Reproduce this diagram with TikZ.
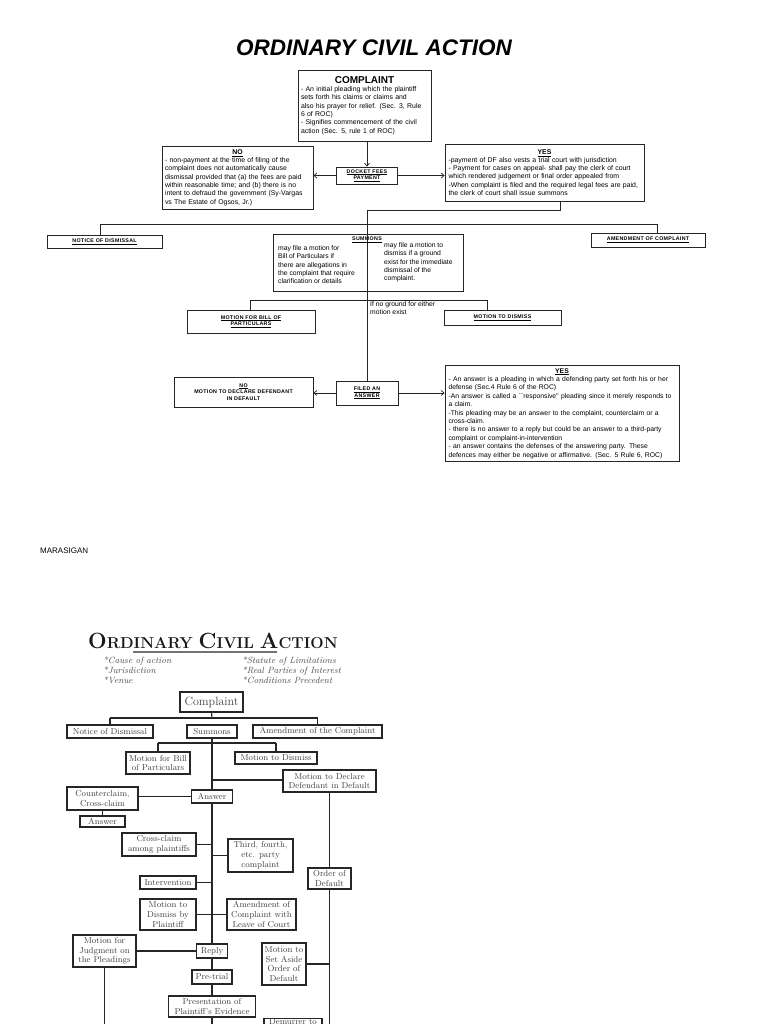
\documentclass[tikz,border=0pt]{standalone}
\usepackage{fontspec}
\newfontfamily\usf{Liberation Sans}
\newfontfamily\usfw[LetterSpace=6]{Liberation Sans}
\usetikzlibrary{arrows.meta}
\begin{document}
\begin{tikzpicture}[x=1pt,y=-1pt,
  ubox/.style={draw=black!85, line width=0.7pt, fill=white, inner sep=3pt},
  utxt/.style={font=\usf\fontsize{6.8}{8.2}\selectfont, text=black},
  utxtl/.style={font=\usf\fontsize{6.9}{8.3}\selectfont, text=black},
  uhead/.style={font=\usfw\bfseries\fontsize{5.3}{6.6}\selectfont, align=center, inner sep=1pt},
  uline/.style={draw=black!85, line width=0.7pt},
  uarr/.style={uline, -{Straight Barb[length=3pt,width=5pt]}},
  lbox/.style={draw=black!85, line width=1.2pt, fill=white, text=black!75, font=\fontsize{8.6}{9.8}\selectfont, align=center, inner sep=1pt},
  lline/.style={draw=black!85, line width=1.1pt},
]
\useasboundingbox (0,0) rectangle (768,1024);
\fill[white] (0,0) rectangle (768,1024);

% ---------------- upper diagram ----------------
\node[font=\usf\bfseries\itshape\fontsize{22.5}{26}\selectfont] (title) at (374,48) {ORDINARY CIVIL ACTION};

\node[ubox, minimum width=133pt, minimum height=71pt, text width=127pt, align=left, utxtl] (cmp) at (364.5,105.5)
 {{\centering\fontsize{10}{12}\selectfont\bfseries COMPLAINT\par}- An initial pleading which the plaintiff\\ sets forth his claims or claims and\\ also his prayer for relief. (Sec. 3, Rule\\ 6 of ROC)\\ - Signifies commencement of the civil\\ action (Sec. 5, rule 1 of ROC)};

\node[ubox, minimum width=61pt, minimum height=17pt, uhead] (dock) at (367,175.5) {\underline{DOCKET FEES}\\\underline{PAYMENT}};

\node[ubox, minimum width=151pt, minimum height=63pt, text width=145pt, align=left, utxtl] (no1) at (237.5,177.5)
 {{\centering\bfseries\underline{NO}\par}- non-payment at the time of filing of the\\ complaint does not automatically cause\\ dismissal provided that (a) the fees are paid\\ within reasonable time; and (b) there is no\\ intent to defraud the government \mbox{(Sy-Vargas}\\ vs The Estate of Ogsos, Jr.)};

\node[ubox, minimum width=199pt, minimum height=57pt, text width=192pt, align=left, font=\usf\fontsize{6.9}{8.2}\selectfont] (yes1) at (544.5,172.5)
 {{\centering\bfseries\underline{YES}\par}-payment of DF also vests a trial court with jurisdiction\\ - Payment for cases on appeal- shall pay the clerk of court\\ which rendered judgement or final order appealed from\\ -When complaint is filed and the required legal fees are paid,\\ the clerk of court shall issue summons};

\draw[uarr] (cmp.south -| dock.north) -- (dock.north);
\draw[uarr] (dock.west) -- (dock.west -| no1.east);
\draw[uarr] (dock.east) -- (dock.east -| yes1.west);

\node[ubox, minimum width=115pt, minimum height=13pt, uhead] (not) at (104.5,241.5) {\underline{NOTICE OF DISMISSAL}};
\node[ubox, minimum width=114pt, minimum height=14pt, uhead] (amd) at (648,240) {\underline{AMENDMENT OF COMPLAINT}};
\node[ubox, minimum width=190pt, minimum height=57pt] (sum) at (368,262.5) {};

\node[ubox, minimum width=128pt, minimum height=23pt, uhead] (bill) at (251,321.5) {\underline{MOTION FOR BILL OF}\\\underline{PARTICULARS}};
\node[ubox, minimum width=117pt, minimum height=15pt, uhead] (dis) at (502.5,317.5) {\underline{MOTION TO DISMISS}};

\node[ubox, minimum width=62pt, minimum height=24pt, uhead] (filed) at (367,393) {\underline{FILED AN}\\\underline{ANSWER}};
\node[ubox, minimum width=139pt, minimum height=30pt, uhead] (no2) at (243.5,392) {\underline{NO}\\MOTION TO DECLARE DEFENDANT\\IN DEFAULT};

\node[ubox, minimum width=234pt, minimum height=95pt, text width=227pt, align=left, font=\usf\fontsize{6.8}{8.4}\selectfont] (yes2) at (562,413.5)
 {{\centering\bfseries\underline{YES}\par}- An answer is a pleading in which a defending party set forth his or her\\ defense (Sec.4 Rule 6 of the ROC)\\ -An answer is called a ``responsive'' pleading since it merely responds to\\ a claim.\\ -This pleading may be an answer to the complaint, counterclaim or a\\ cross-claim.\\ - there is no answer to a reply but could be an answer to a third-party\\ complaint or complaint-in-intervention\\ - an answer contains the defenses of the answering party. These\\ defences may either be negative or affirmative. (Sec. 5 Rule 6, ROC)};

\coordinate (t1) at (560,201);
\coordinate (j1) at (367,210);
\coordinate (j2) at (367,224);
\coordinate (nL) at (100,224);
\coordinate (aR) at (657,224);
\coordinate (mL) at (250,300);
\coordinate (mR) at (487,300);
\draw[uline] (t1) |- (j1) -- (j2);
\draw[uline] (nL) -- (aR);
\draw[uline] (nL) -- (nL |- not.north);
\draw[uline] (aR) -- (aR |- amd.north);
\draw[uline] (j2) -- (filed.north);
\draw[uline] (mL) -- (mR);
\draw[uline] (mL) -- (mL |- bill.north);
\draw[uline] (mR) -- (mR |- dis.north);
\draw[uarr] (filed.west) -- (filed.west -| no2.east);
\draw[uarr] (filed.east) -- (filed.east -| yes2.west);

\node[uhead] (sumh) at (367,239.5) {\underline{SUMMONS}};
\node[anchor=north west, utxt, align=left, inner sep=0pt] (suml) at (278,245.5)
 {may file a motion for\\ Bill of Particulars if\\ there are allegations in\\ the complaint that require\\ clarification or details};
\node[anchor=north west, utxt, align=left, inner sep=0pt] (sumr) at (384,242.5)
 {may file a motion to\\ dismiss if a ground\\ exist for the immediate\\ dismissal of the\\ complaint.};
\node[anchor=north west, utxt, align=left, inner sep=0pt] (note) at (370,301) {If no ground for either\\ motion exist};

\node[anchor=west, inner sep=0pt, font=\usf\fontsize{8}{9}\selectfont] (mar) at (40,551) {MARASIGAN};

% ---------------- lower diagram ----------------
\node[anchor=base west, inner sep=0pt, font=\bfseries, text=black!90] (ltitle) at (88,648)
 {\fontsize{22}{24}\selectfont O\fontsize{15.8}{18}\selectfont RDINARY \fontsize{22}{24}\selectfont C\fontsize{15.8}{18}\selectfont IVIL \fontsize{22}{24}\selectfont A\fontsize{15.8}{18}\selectfont CTION};
\draw[draw=black!55, line width=1.5pt] (133,652) -- (277,652);
\node[anchor=north west, inner sep=0pt, font=\itshape\fontsize{9}{10}\selectfont, text=black!70, align=left] (litems1) at (103,657)
 {*Cause of action\\ *Jurisdiction\\ *Venue};
\node[anchor=north west, inner sep=0pt, font=\itshape\fontsize{9}{10}\selectfont, text=black!70, align=left] (litems2) at (242,657)
 {*Statute of Limitations\\ *Real Parties of Interest\\ *Conditions Precedent};

\node[lbox, minimum width=63pt, minimum height=20pt, font=\fontsize{12}{14}\selectfont, line width=1.3pt] (lcmp) at (211.5,702) {Complaint};
\node[lbox, minimum width=86pt, minimum height=13pt] (lnot) at (110,731.5) {Notice of Dismissal};
\node[lbox, minimum width=50pt, minimum height=13pt] (lsum) at (212,731.5) {Summons};
\node[lbox, minimum width=129pt, minimum height=13pt] (lamd) at (317.5,731.5) {Amendment of the Complaint};
\node[lbox, minimum width=64pt, minimum height=22pt] (lbill) at (158,763) {Motion for Bill\\of Particulars};
\node[lbox, minimum width=82pt, minimum height=12pt] (ldis) at (276,758) {Motion to Dismiss};
\node[lbox, minimum width=93pt, minimum height=22pt] (ldecl) at (329.5,781) {Motion to Declare\\Defendant in Default};
\node[lbox, minimum width=41pt, minimum height=13pt, line width=1.5pt] (lans) at (212,796.5) {Answer};
\node[lbox, minimum width=71pt, minimum height=23pt] (lcc) at (102.5,798.5) {Counterclaim,\\Cross-claim};
\node[lbox, minimum width=45pt, minimum height=11pt] (lans2) at (102.5,821.5) {Answer};
\node[lbox, minimum width=74pt, minimum height=23pt] (lcross) at (159,844.5) {Cross-claim\\among plaintiffs};
\node[lbox, minimum width=65pt, minimum height=33pt] (lthird) at (260.5,855.5) {Third, fourth,\\etc. party\\complaint};
\node[lbox, minimum width=56pt, minimum height=13pt] (linter) at (168,882.5) {Intervention};
\node[lbox, minimum width=56pt, minimum height=31pt] (lmdp) at (168,914.5) {Motion to\\Dismiss by\\Plaintiff};
\node[lbox, minimum width=69pt, minimum height=31pt] (lalc) at (261.5,914.5) {Amendment of\\Complaint with\\Leave of Court};
\node[lbox, minimum width=43pt, minimum height=21pt] (lord) at (329.5,878.5) {Order of\\Default};
\node[lbox, minimum width=31pt, minimum height=14pt] (lreply) at (212,951) {Reply};
\node[lbox, minimum width=63pt, minimum height=32pt] (ljudg) at (104.5,951) {Motion for\\Judgment on\\the Pleadings};
\node[lbox, minimum width=44pt, minimum height=42pt] (lset) at (284,964) {Motion to\\Set Aside\\Order of\\Default};
\node[lbox, minimum width=40pt, minimum height=14pt] (lpre) at (212,977) {Pre-trial};
\node[lbox, minimum width=87pt, minimum height=21pt] (lpres) at (212,1006.5) {Presentation of\\Plaintiff's Evidence};
\node[lbox, minimum width=58pt, anchor=north, text depth=12pt] (ldem) at (293,1017.5) {Demurrer to};

\coordinate (lj1) at (212,718);
\coordinate (lnL) at (110,718);
\coordinate (laR) at (317.5,718);
\coordinate (lmL) at (158,743);
\coordinate (lmR) at (276,743);
\coordinate (ldj) at (212,780);
\coordinate (lb1) at (212,1024);
\coordinate (lb2) at (104.5,1024);
\coordinate (lb3) at (329.5,1024);
\coordinate (lsj) at (329.5,964);
\draw[lline] (lcmp.south) -- (lj1);
\draw[lline] (lnL) -- (laR);
\draw[lline] (lnL) -- (lnot.north);
\draw[lline] (laR) -- (lamd.north);
\draw[lline] (lsum.south) -- (lans.north);
\draw[lline] (lmL) -- (lmR);
\draw[lline] (lmL) -- (lbill.north);
\draw[lline] (lmR) -- (ldis.north);
\draw[lline] (ldj) -- (ldj -| ldecl.west);
\draw[lline] (lans.west) -- (lans.west -| lcc.east);
\draw[lline] (lcc.south) -- (lans2.north);
\draw[lline] (lans.south) -- (lreply.north);
\draw[lline] (lcross.east) -- (lcross.east -| lans.south);
\draw[lline] (lthird.west) -- (lthird.west -| lans.south);
\draw[lline] (linter.east) -- (linter.east -| lans.south);
\draw[lline] (lmdp.east) -- (lmdp.east -| lans.south);
\draw[lline] (lalc.west) -- (lalc.west -| lans.south);
\draw[lline] (lreply.west) -- (lreply.west -| ljudg.east);
\draw[lline] (lreply.south) -- (lpre.north);
\draw[lline] (lpre.south) -- (lpres.north);
\draw[lline] (lpres.south) -- (lb1);
\draw[lline] (ljudg.south) -- (lb2);
\draw[lline] (ldecl.south) -- (lord.north);
\draw[lline] (lord.south) -- (lb3);
\draw[lline] (lset.east) -- (lsj);
\end{tikzpicture}
\end{document}
